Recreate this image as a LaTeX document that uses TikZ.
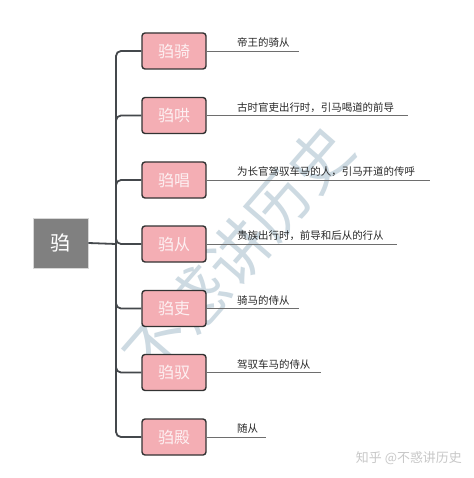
\documentclass[tikz,border=0pt]{standalone}
\usepackage{fontspec}
\setmainfont{Noto Sans CJK SC}
\definecolor{boxborder}{RGB}{51,51,51}
\definecolor{boxfill}{RGB}{244,174,180}
\definecolor{boxtext}{RGB}{253,240,242}
\definecolor{rootfill}{RGB}{128,128,128}
\definecolor{rootedge}{RGB}{215,215,215}
\definecolor{conncol}{RGB}{68,72,76}
\definecolor{leafcol}{RGB}{110,110,110}
\definecolor{leaftxt}{RGB}{40,40,40}
\definecolor{wmcol}{RGB}{205,218,226}
\definecolor{zhcol}{RGB}{200,200,200}
\begin{document}
\begin{tikzpicture}[x=1bp,y=-1bp,
  childbox/.style={draw=boxborder, line width=1.4bp, fill=boxfill, rounded corners=3bp, minimum width=64bp, minimum height=36bp, inner sep=0pt, text=boxtext, font=\fontsize{16}{16}\selectfont},
  rootbox/.style={fill=rootfill, draw=rootedge, line width=0.8bp, minimum width=55bp, minimum height=50bp, inner sep=0pt, text=white, font=\fontsize{20}{20}\selectfont},
  conn/.style={draw=conncol, line width=1.8bp},
  leafline/.style={draw=leafcol, line width=0.9bp},
  leaftext/.style={anchor=south west, inner sep=0pt, text=leaftxt, font=\fontsize{10.5}{11}\selectfont},
  wm/.style={text=wmcol, font=\fontsize{62}{62}\selectfont, inner sep=0pt},
  zh/.style={text=zhcol, font=\fontsize{13}{13}\selectfont, inner sep=0pt}
]
\useasboundingbox (0,0) rectangle (474,478);
\fill[white] (0,0) rectangle (474,478);
% watermark
\node[wm, rotate=49] (wmark) at (238,252) {不惑讲历史};
\node[zh, anchor=east] (zhihu) at (462,458) {知乎 @不惑讲历史};
% root
\node[rootbox] (root) at (60.5,243) {驺};
\coordinate (j) at (116,244);
% children
\node[childbox] (c1) at (174,51) {驺骑};
\node[childbox] (c2) at (174,115.5) {驺哄};
\node[childbox] (c3) at (174,180) {驺唱};
\node[childbox] (c4) at (174,244) {驺从};
\node[childbox] (c5) at (174,308.5) {驺吏};
\node[childbox] (c6) at (174,372.5) {驺驭};
\node[childbox] (c7) at (174,437) {驺殿};
% connectors
\draw[conn] (root.east) -- (j);
\foreach \i in {1,...,7}{
  \draw[conn, rounded corners=5bp] (j) |- (c\i.west);
}
% leaf lines and texts
\coordinate (e1) at (299,51);
\coordinate (e2) at (408,115.5);
\coordinate (e3) at (430,180);
\coordinate (e4) at (397,244);
\coordinate (e5) at (299,308.5);
\coordinate (e6) at (321,372.5);
\coordinate (e7) at (266,437);
\foreach \i in {1,...,7}{
  \draw[leafline] (c\i.east) -- (e\i);
}
\node[leaftext] (t1) at (237,48) {帝王的骑从};
\node[leaftext] (t2) at (237,112.5) {古时官吏出行时，引马喝道的前导};
\node[leaftext] (t3) at (237,177) {为长官驾驭车马的人，引马开道的传呼};
\node[leaftext] (t4) at (237,241) {贵族出行时，前导和后从的行从};
\node[leaftext] (t5) at (237,305.5) {骑马的侍从};
\node[leaftext] (t6) at (237,369.5) {驾驭车马的侍从};
\node[leaftext] (t7) at (237,434) {随从};
\end{tikzpicture}
\end{document}
